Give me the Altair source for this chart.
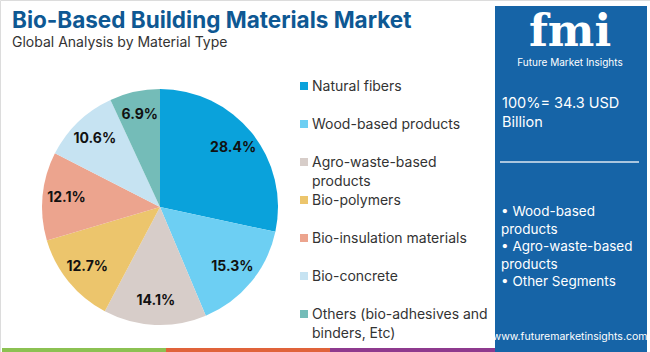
import altair as alt
import pandas as pd

# Material type shares (% of a 34.3 USD billion market)
materials = [
    "Natural fibers",
    "Wood-based products",
    "Agro-waste-based products",
    "Bio-polymers",
    "Bio-insulation materials",
    "Bio-concrete",
    "Others (bio-adhesives and binders, Etc)",
]
legend_labels = [
    "Natural fibers",
    "Wood-based products",
    "Agro-waste-based\nproducts",
    "Bio-polymers",
    "Bio-insulation materials",
    "Bio-concrete",
    "Others (bio-adhesives and\nbinders, Etc)",
]
shares = [28.4, 15.3, 14.1, 12.7, 12.1, 10.6, 6.9]
colors = ["#0aa2db", "#6dcff3", "#d7cdc9", "#ecc56c", "#eca48e", "#c6e3f2", "#74bcb8"]

W, H = 650, 352
FONT = "Inter"
PANEL = "#1664a7"
TITLE_BLUE = "#0e5893"

pie_df = pd.DataFrame({
    "material": materials,
    "share": shares,
    "idx": list(range(len(materials))),
})
legend_df = pd.DataFrame({
    "material": materials,
    "label": legend_labels,
    "idx": list(range(len(materials))),
})
one = pd.DataFrame({"k": [0]})

color_scale = alt.Scale(domain=materials, range=colors)

# frame and decorations
frame = alt.Chart(one).mark_rect(fill="white", stroke="#dcdcdc", strokeWidth=1).encode(
    x=alt.value(0.5), x2=alt.value(W + 5), y=alt.value(0.5), y2=alt.value(H + 5)
)
panel = alt.Chart(one).mark_rect(fill=PANEL).encode(
    x=alt.value(495), x2=alt.value(647), y=alt.value(6), y2=alt.value(H)
)
strip_green = alt.Chart(one).mark_rect(fill="#8cc152").encode(
    x=alt.value(2), x2=alt.value(166), y=alt.value(348), y2=alt.value(H)
)
strip_orange = alt.Chart(one).mark_rect(fill="#e0633a").encode(
    x=alt.value(166), x2=alt.value(330), y=alt.value(348), y2=alt.value(H)
)
strip_purple = alt.Chart(one).mark_rect(fill="#8e3a8e").encode(
    x=alt.value(330), x2=alt.value(495), y=alt.value(348), y2=alt.value(H)
)

title = alt.Chart(one).mark_text(
    text="Bio-Based Building Materials Market", align="left", baseline="alphabetic",
    font=FONT, fontSize=22.5, fontWeight="bold", color=TITLE_BLUE,
).encode(x=alt.value(12), y=alt.value(28))
subtitle = alt.Chart(one).mark_text(
    text="Global Analysis by Material Type", align="left", baseline="alphabetic",
    font=FONT, fontSize=14, color="#333333",
).encode(x=alt.value(12), y=alt.value(47))

# pie
arcs = alt.Chart(pie_df).mark_arc(outerRadius=118).encode(
    theta=alt.Theta("share:Q", stack=True),
    color=alt.Color("material:N", scale=color_scale, legend=None),
    order=alt.Order("idx:Q"),
    x=alt.value(160), y=alt.value(207),
)
pie_labels = alt.Chart(pie_df).transform_calculate(
    label="format(datum.share, '.1f') + '%'"
).mark_text(
    radius=94, font=FONT, fontSize=14, fontWeight="bold", color="#111111"
).encode(
    theta=alt.Theta("share:Q", stack=True),
    text="label:N",
    order=alt.Order("idx:Q"),
    x=alt.value(160), y=alt.value(207),
)

# legend
legend_y = alt.Y("idx:Q", scale=alt.Scale(domain=[0, 6], range=[86, 314]), axis=None)
legend_marks = alt.Chart(legend_df).mark_square(size=64, opacity=1).encode(
    x=alt.value(304), y=legend_y,
    color=alt.Color("material:N", scale=color_scale, legend=None),
)
legend_text = alt.Chart(legend_df).mark_text(
    align="left", baseline="alphabetic", dy=5, lineBreak="\n", lineHeight=19,
    font=FONT, fontSize=14, color="#333333",
).encode(x=alt.value(312), y=legend_y, text="label:N")

# side panel content
logo = alt.Chart(one).mark_text(
    text="fmi", align="center", baseline="alphabetic",
    font="DejaVu Serif", fontSize=44, fontWeight="bold", color="white",
).encode(x=alt.value(570), y=alt.value(46))
logo_sub = alt.Chart(one).mark_text(
    text="Future Market Insights", align="center", baseline="middle",
    font=FONT, fontSize=10, color="white",
).encode(x=alt.value(570), y=alt.value(63))
total = alt.Chart(one).mark_text(
    text="100%= 34.3 USD\nBillion", align="left", baseline="alphabetic",
    lineBreak="\n", lineHeight=19, font=FONT, fontSize=14.5, color="white",
).encode(x=alt.value(502), y=alt.value(108))
divider = alt.Chart(one).mark_rule(color="white", strokeWidth=1.5, opacity=0.85).encode(
    x=alt.value(500), x2=alt.value(639), y=alt.value(162)
)
bullets = alt.Chart(one).mark_text(
    text="\u2022 Wood-based\nproducts\n\u2022 Agro-waste-based\nproducts\n\u2022 Other Segments",
    align="left", baseline="alphabetic", lineBreak="\n", lineHeight=17.5,
    font=FONT, fontSize=13.5, color="white",
).encode(x=alt.value(501), y=alt.value(216))
url = alt.Chart(one).mark_text(
    text="www.futuremarketinsights.com", align="center", baseline="middle",
    font=FONT, fontSize=10.5, color="white",
).encode(x=alt.value(570), y=alt.value(337))

chart = alt.layer(
    frame, panel, strip_green, strip_orange, strip_purple,
    title, subtitle, arcs, pie_labels, legend_marks, legend_text,
    logo, logo_sub, total, divider, bullets, url,
).properties(
    width=W, height=H, padding=0, autosize=alt.AutoSizeParams(type="none"),
    background="white",
).configure_view(stroke=None)

chart.save("out.html", embed_options={"renderer": "svg", "actions": False})
